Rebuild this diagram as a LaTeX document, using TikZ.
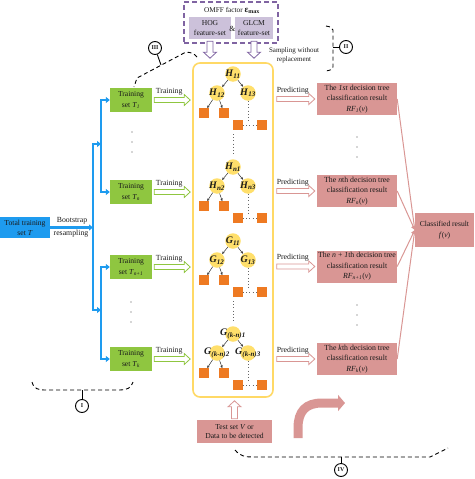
\documentclass[tikz,border=0pt]{standalone}
\usepackage{fontspec}
\setmainfont{Liberation Serif}
\usetikzlibrary{calc,arrows.meta}
\definecolor{cgreen}{HTML}{8FC640}
\definecolor{cpink}{HTML}{D99694}
\definecolor{cblue}{HTML}{1E9BEF}
\definecolor{cpurple}{HTML}{8064A2}
\definecolor{cpurplel}{HTML}{CCC1DA}
\definecolor{cyelbox}{HTML}{FFD966}
\definecolor{cyel}{HTML}{FFDF6B}
\definecolor{corange}{HTML}{EE7A22}
\definecolor{ctext}{HTML}{1A1A1A}
\newcommand{\sbx}[2]{\textit{#1}\textsubscript{\textit{#2}}}
\newcommand{\tlab}[2]{{\fontsize{10}{10}\selectfont\textbf{\textit{#1}}\textsubscript{\textbf{\textit{#2}}}}}
\newcommand{\hollowR}[3]{\draw[#3] ($(#1)+(0,-2.5)$) -- ($(#2)+(-6,-2.5)$) -- ($(#2)+(-6,-5.5)$) -- (#2) -- ($(#2)+(-6,5.5)$) -- ($(#2)+(-6,2.5)$) -- ($(#1)+(0,2.5)$) -- cycle;}
\newcommand{\hollowD}[3]{\draw[#3] ($(#1)+(-3,0)$) -- ($(#2)+(-3,-6)$) -- ($(#2)+(-6.5,-6)$) -- (#2) -- ($(#2)+(6.5,-6)$) -- ($(#2)+(3,-6)$) -- ($(#1)+(3,0)$) -- cycle;}
\newcommand{\hollowU}[3]{\draw[#3] ($(#1)+(-3,0)$) -- ($(#2)+(-3,6)$) -- ($(#2)+(-6.5,6)$) -- (#2) -- ($(#2)+(6.5,6)$) -- ($(#2)+(3,6)$) -- ($(#1)+(3,0)$) -- cycle;}
\newcommand{\dtree}[5]{%
 \node[tnode, label={center:#3}] (#1r) at (233,#2) {};
 \node[tnode, label={center:#4}] (#1a) at (217,#2+19) {};
 \node[tnode, label={center:#5}] (#1b) at (248,#2+19) {};
 \node[leaf] (#1l1) at (204,#2+39) {};
 \node[leaf] (#1l2) at (224,#2+39) {};
 \node[leaf] (#1l3) at (238,#2+51) {};
 \node[leaf] (#1l4) at (262,#2+51) {};
 \coordinate (#1m) at (248,#2+49);
 \draw[tedge] (#1r) -- (#1a);
 \draw[tedge] (#1r) -- (#1b);
 \draw[tedge] (#1a) -- (#1l1);
 \draw[tedge] (#1a) -- (#1l2);
 \draw[dotl] (#1b) -- (#1m);
 \draw[dotl] (#1l3) -- (#1l4);
}
\begin{document}
\begin{tikzpicture}[x=1pt,y=-1pt,
  every node/.style={text=ctext},
  lbl/.style={font=\fontsize{7.8}{8}\selectfont, inner sep=0.5pt},
  gbox/.style={rectangle, fill=cgreen, minimum width=42pt, minimum height=24pt, inner sep=0.5pt, align=center, font=\fontsize{7.6}{11}\selectfont},
  pbox/.style={rectangle, fill=cpink, minimum width=80pt, minimum height=32pt, inner sep=0.5pt, align=center, font=\fontsize{7.8}{10.5}\selectfont},
  tnode/.style={circle, fill=cyel, minimum size=15.5pt, inner sep=0pt},
  leaf/.style={rectangle, fill=corange, minimum size=9.5pt, inner sep=0pt},
  tedge/.style={draw=black!80, line width=0.5pt, -{Stealth[length=2.6pt,width=2.4pt]}},
  dotl/.style={draw=black!60, line width=0.6pt, dash pattern=on 0.6pt off 2.6pt},
  bus/.style={draw=cblue, line width=2.6pt},
  busarrow/.style={draw=cblue, line width=2.2pt, -{Triangle[length=4pt,width=6pt]}},
  hollow/.style={line width=0.8pt, fill=white, line join=miter},
  brk/.style={draw=black, line width=0.9pt, dash pattern=on 4pt off 3pt},
  rcirc/.style={circle, draw=black, line width=0.9pt, minimum size=13pt, inner sep=0pt, font=\fontsize{6}{6}\selectfont\bfseries},
  conv/.style={draw=cpink, line width=1pt, -{Triangle[length=4pt,width=4pt]}}
]
\useasboundingbox (0,0) rectangle (474,479);

% ---- feature box
\node[draw=cpurple, line width=1.2pt, dash pattern=on 5pt off 3pt, minimum width=94pt, minimum height=41pt, inner sep=0pt] (omff) at (231,22.5) {};
\node[lbl, font=\fontsize{7.3}{8}\selectfont] (omfft) at (232,10.5) {OMFF factor {\fontsize{9}{9}\selectfont\bfseries ε\textsubscript{max}}};
\node[rectangle, fill=cpurplel, minimum width=42pt, minimum height=22pt, inner sep=0.5pt, align=center, font=\fontsize{7.6}{9.5}\selectfont] (hog) at (210,28) {HOG\\feature-set};
\node[rectangle, fill=cpurplel, minimum width=38pt, minimum height=22pt, inner sep=0.5pt, align=center, font=\fontsize{7.6}{9.5}\selectfont] (glcm) at (254,28) {GLCM\\feature-set};
\node[lbl] (amp) at (232.5,29) {\&};

% ---- yellow forest box
\node[draw=cyelbox, line width=1.6pt, rounded corners=7pt, minimum width=80pt, minimum height=334pt, inner sep=0pt] (yb) at (233,230) {};

\coordinate (ha) at ($(hog.south)+(0,2)$);
\coordinate (hb) at ($(hog.south |- yb.north)+(0,-4)$);
\hollowD{ha}{hb}{hollow, draw=cpurple}
\coordinate (ga) at ($(glcm.south)+(0,2)$);
\coordinate (gb) at ($(glcm.south |- yb.north)+(0,-4)$);
\hollowD{ga}{gb}{hollow, draw=cpurple}

\node[lbl, align=center, font=\fontsize{7}{9}\selectfont] (samp) at (294,55.5) {Sampling without\\replacement};

% ---- trees
\dtree{h1}{74}{\tlab{H}{11}}{\tlab{H}{12}}{\tlab{H}{13}}
\dtree{hn}{167}{\tlab{H}{n1}}{\tlab{H}{n2}}{\tlab{H}{n3}}
\dtree{g1}{241}{\tlab{G}{11}}{\tlab{G}{12}}{\tlab{G}{13}}
\dtree{gk}{334}{\tlab{G}{(k-n)1}}{\tlab{G}{(k-n)2}}{\tlab{G}{(k-n)3}}
\coordinate (sd1) at (233,134);
\coordinate (sd2) at (233,156);
\draw[dotl] (sd1) -- (sd2);
\coordinate (sd3) at (233,301);
\coordinate (sd4) at (233,323);
\draw[dotl] (sd3) -- (sd4);

% ---- total training set and bus
\node[rectangle, fill=cblue, minimum width=50pt, minimum height=21pt, inner sep=0.5pt, align=center, font=\fontsize{7.6}{10}\selectfont] (tot) at (25,227.5) {Total training\\set \textit{T}};
\node[lbl] (boot) at (72,221) {Bootstrap};
\node[lbl] (resa) at (71,234) {resampling};

\node[gbox] (T1) at (131,100) {Training\\set \sbx{T}{1}};
\node[gbox] (Tn) at (131,192) {Training\\set \sbx{T}{n}};
\node[gbox] (Tnp) at (131,267) {Training\\set \sbx{T}{n+1}};
\node[gbox] (Tk) at (131,359) {Training\\set \sbx{T}{k}};

\coordinate (bl1) at (93,144);
\coordinate (bl2) at (93,310);
\coordinate (br1) at (101,144);
\coordinate (br2) at (101,310);
\coordinate (ru1) at (101,100);
\coordinate (ru2) at (101,192);
\coordinate (rl1) at (101,267);
\coordinate (rl2) at (101,359);
\draw[bus, line cap=rect] (bl1) -- (bl2);
\draw[bus, line cap=rect] (ru1) -- (ru2);
\draw[bus, line cap=rect] (rl1) -- (rl2);
\draw[busarrow] (bl1) -- (br1);
\draw[busarrow] (bl2) -- (br2);
\draw[busarrow] (ru1) -- (T1);
\draw[busarrow] (ru2) -- (Tn);
\draw[busarrow] (rl1) -- (Tnp);
\draw[busarrow] (rl2) -- (Tk);
\draw[busarrow] (tot) -- (tot -| bl1);

\foreach \y in {132,142,152} \fill[black!70] (132,\y) circle (0.6);
\foreach \y in {302,312,322} \fill[black!70] (131,\y) circle (0.6);

% ---- results
\node[pbox] (r1) at (357,99) {The \textit{1st} decision tree\\classification result\\\sbx{RF}{1}(\textit{v})};
\node[pbox] (r2) at (357,191) {The \textit{n}th decision tree\\classification result\\\sbx{RF}{n}(\textit{v})};
\node[pbox] (r3) at (357,266.5) {The \textit{n} + \textit{1}th decision tree\\classification result\\\sbx{RF}{n+1}(\textit{v})};
\node[pbox] (r4) at (357,359) {The \textit{k}th decision tree\\classification result\\\sbx{RF}{k}(\textit{v})};
\foreach \y in {137,147,157} \fill[black!70] (357,\y) circle (0.6);
\foreach \y in {305,315,325} \fill[black!70] (357,\y) circle (0.6);

\node[rectangle, fill=cpink, minimum width=59pt, minimum height=34pt, inner sep=0.5pt, align=center, font=\fontsize{7.6}{10.5}\selectfont] (cls) at (444.5,230) {Classified result\\\textit{f}(\textit{v})};
\draw[conv] (r1.east) -- (cls.west);
\draw[conv] (r2.east) -- (cls.west);
\draw[conv] (r3.east) -- (cls.west);
\draw[conv] (r4.east) -- (cls.west);

% ---- training / predicting arrows
\foreach \t/\r/\i in {T1/r1/1,Tn/r2/2,Tnp/r3/3,Tk/r4/4}{
  \coordinate (ta\i) at ($(\t.east)+(2,0)$);
  \coordinate (tb\i) at ($(\t.east -| yb.west)+(-2,0)$);
  \hollowR{ta\i}{tb\i}{hollow, draw=cgreen}
  \node[lbl] (tl\i) at ($(ta\i)!0.5!(tb\i)+(-3,-8.5)$) {Training};
  \coordinate (pa\i) at ($(\r.west -| yb.east)+(3,0)$);
  \coordinate (pb\i) at ($(\r.west)+(-2,0)$);
  \hollowR{pa\i}{pb\i}{hollow, draw=cpink}
  \node[lbl] (pl\i) at ($(pa\i)!0.5!(pb\i)+(-3,-8.5)$) {Predicting};
}

% ---- test set
\node[rectangle, fill=cpink, minimum width=75pt, minimum height=23pt, inner sep=0.5pt, align=center, font=\fontsize{7.6}{9.5}\selectfont] (test) at (234.5,431.5) {Test set \textit{V} or\\Data to be detected};
\coordinate (tsa) at ($(test.north)+(0,-1)$);
\coordinate (tsb) at ($(test.north |- yb.south)+(0,3)$);
\hollowU{tsa}{tsb}{hollow, draw=cpink}

% ---- curved arrow
\coordinate (ca1) at (298,438);
\coordinate (ca2) at (345,403);
\draw[draw=cpink, line width=9pt, -{Triangle[length=7pt,width=16pt]}] (ca1) -- (298,428) .. controls (298,411) and (306,403) .. (322,403) -- (ca2);

% ---- brackets and roman labels
\draw[brk] (32,382) .. controls (34,389) and (38,390) .. (46,390) -- (120,390) .. controls (127,390) and (131,388) .. (133,382);
\node[rcirc] (cI) at (82,406) {I};
\coordinate (sI) at (82,390);
\draw[line width=0.9pt] (sI) -- (cI);

\draw[brk] (326,26) .. controls (331,27) .. (333,30) -- (333,67) .. controls (331,70) .. (326,71);
\node[rcirc] (cII) at (346,47) {II};
\coordinate (sII) at (333,47);
\draw[line width=0.9pt] (sII) -- (cII);

\draw[brk] (197,57) .. controls (193,53) .. (186,52) -- (137,78) -- (134,87);
\node[rcirc] (cIII) at (155,48) {III};
\coordinate (sIII) at (161,65);
\draw[line width=0.9pt] (cIII) -- (sIII);

\draw[brk] (235,450) .. controls (240,456) and (245,457) .. (252,457) -- (430,457) -- (448,448);
\node[rcirc] (cIV) at (341,470) {IV};
\coordinate (sIV) at (341,457);
\draw[line width=0.9pt] (sIV) -- (cIV);
\end{tikzpicture}
\end{document}
